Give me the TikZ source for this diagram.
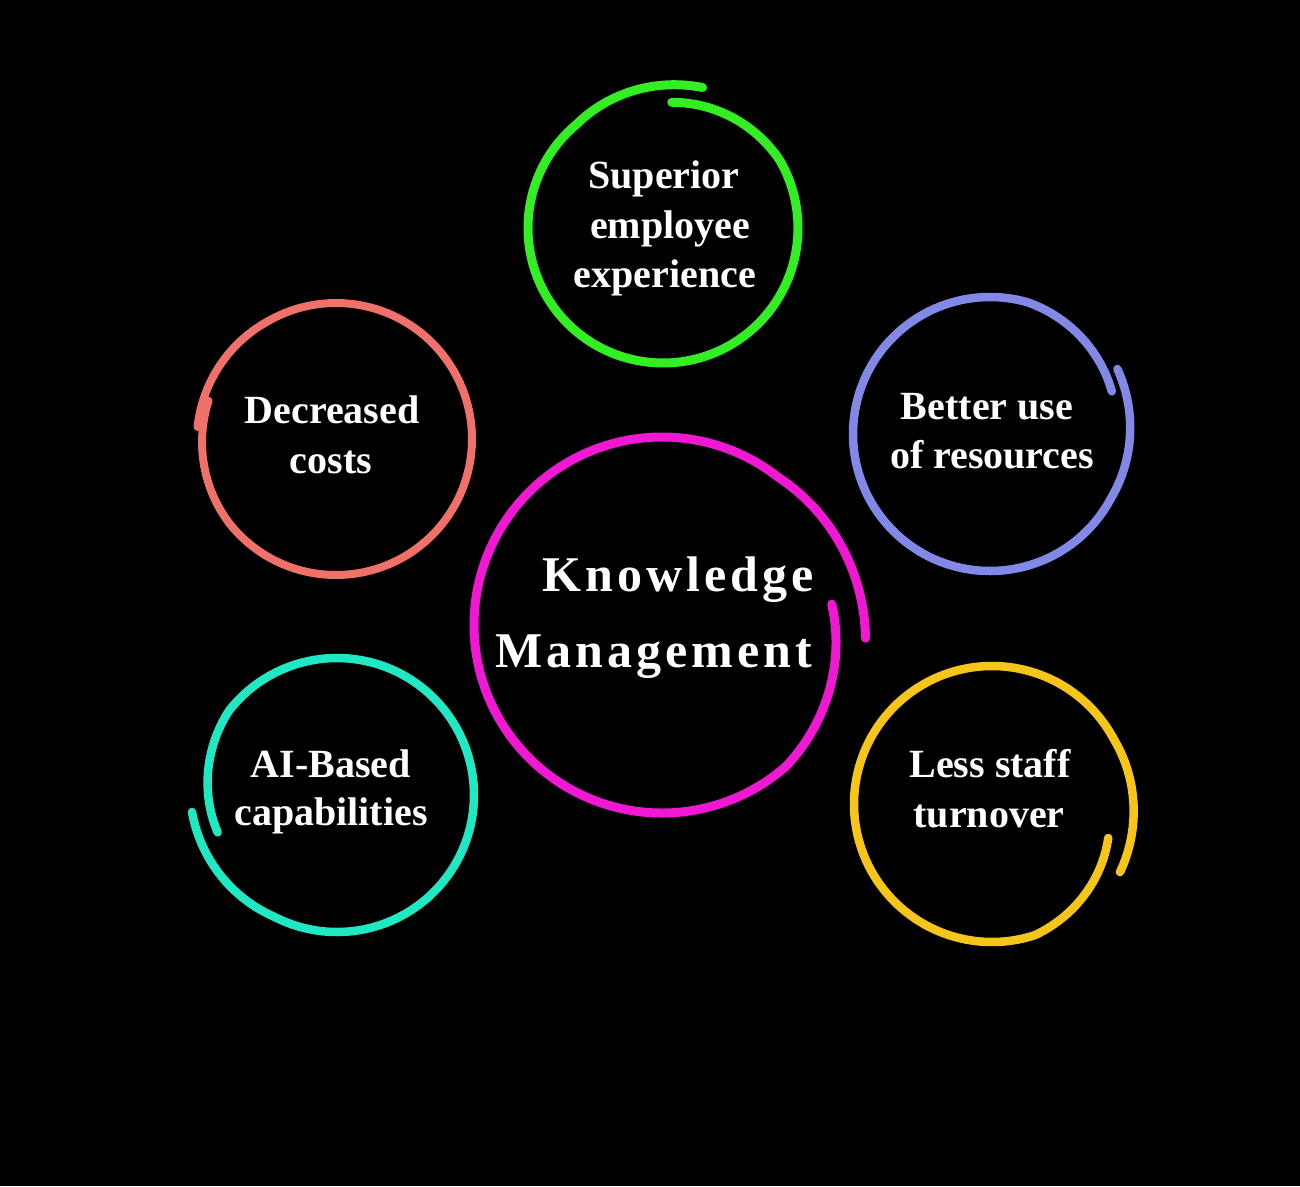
\documentclass[tikz,border=0pt]{standalone}
\usepackage{fontspec}
\setmainfont{Liberation Serif}
\newfontfamily\kmfont[LetterSpace=8]{Liberation Serif}
\definecolor{ringgreen}{HTML}{33EE22}
\definecolor{ringsalmon}{HTML}{F0706A}
\definecolor{ringblue}{HTML}{8288E6}
\definecolor{ringmagenta}{HTML}{F018D2}
\definecolor{ringteal}{HTML}{20E8C2}
\definecolor{ringyellow}{HTML}{F5C51A}
% #1 colour, #2 cx, #3 cy, #4 R, #5 start angle, #6 span (clockwise +), #7 start offset, #8 end offset, #9 width
\newcommand{\brushring}[9]{%
  \draw[#1, line width=#9pt, line cap=round, line join=round]
    plot[domain=0:1, samples=240, smooth]
    ({#2+(#4+(#7)*max(0,1-\x/0.15)+(#8)*max(0,(\x-0.85)/0.15))*cos(#5-(#6)*\x)},
     {#3-(#4+(#7)*max(0,1-\x/0.15)+(#8)*max(0,(\x-0.85)/0.15))*sin(#5-(#6)*\x)});}
\begin{document}
\begin{tikzpicture}[x=1pt,y=-1pt,
  lbl/.style={text=white, font=\bfseries\fontsize{40}{50}\selectfont, anchor=base, inner sep=0pt},
  kmlbl/.style={text=white, font=\kmfont\bfseries\fontsize{50}{60}\selectfont, anchor=base, inner sep=0pt}]
\fill[black] (0,0) rectangle (1300,1186);
\useasboundingbox (0,0) rectangle (1300,1186);
% rings
\coordinate (cGreen) at (663,228);
\coordinate (cSalmon) at (336,439);
\coordinate (cBlue) at (990,434);
\coordinate (cMagenta) at (662,625);
\coordinate (cTeal) at (337,795);
\coordinate (cYellow) at (992,804);
\brushring{ringgreen}{663}{228}{135}{86}{372}{-9}{11}{9}
\brushring{ringsalmon}{336}{439}{136}{175}{372}{3}{-3}{8}
\brushring{ringblue}{990}{434}{137}{27}{368}{6}{-8}{8.5}
\brushring{ringmagenta}{662}{625}{188}{7}{371}{-17}{16}{9}
\brushring{ringteal}{337}{795}{137}{186.7}{-371}{9}{-12}{8.5}
\brushring{ringyellow}{992}{804}{138}{-28}{-372}{7}{-17}{8.5}
% texts
\node[lbl] (sup1) at (664,188) {Superior};
\node[lbl] (sup2) at (670,238) {employee};
\node[lbl] (sup3) at (665,287) {experience};
\node[lbl] (dec1) at (332,423) {Decreased};
\node[lbl] (dec2) at (331,473) {costs};
\node[lbl] (bet1) at (987,419) {Better use};
\node[lbl] (bet2) at (992,468) {of resources};
\node[kmlbl] (km1) at (678,591) {Knowledge};
\node[kmlbl] (km2) at (654,667) {Management};
\node[lbl] (ai1) at (331,777) {AI-Based};
\node[lbl] (ai2) at (331,825) {capabilities};
\node[lbl] (les1) at (990,777) {Less staff};
\node[lbl] (les2) at (989,827) {turnover};
\end{tikzpicture}
\end{document}
